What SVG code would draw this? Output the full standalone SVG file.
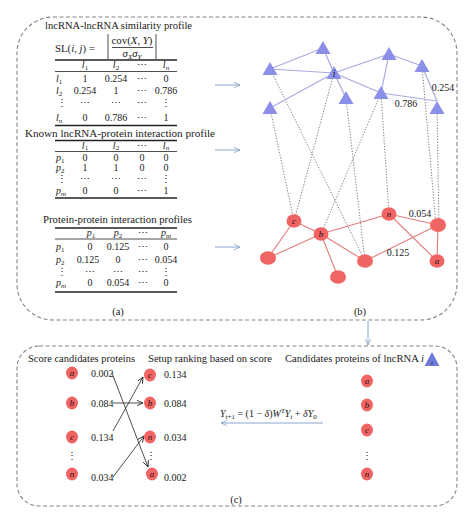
<svg xmlns="http://www.w3.org/2000/svg" width="474" height="524" viewBox="0 0 474 524">
<style>
text{font-family:"Liberation Serif","Times New Roman","DejaVu Serif",serif;fill:#1a1a1a}
.t{font-size:10.8px}
.n{font-size:10px;text-anchor:middle}
.lb{font-size:10px;text-anchor:start}
.it{font-style:italic}
.sub{font-size:7px}
.box{fill:none;stroke:#80858c;stroke-width:1.1;stroke-dasharray:4 2.5}
.rule{stroke:#222;stroke-width:0.8}
.rule2{stroke:#222;stroke-width:1.3}
.tri{fill:#8b8fe8}
.te{stroke:#a8abe0;stroke-width:1.2;fill:none}
.ce{stroke:#e37b7b;stroke-width:1.1;fill:none}
.de{stroke:#7a7a7a;stroke-width:1;stroke-dasharray:1.2 1.6;fill:none}
.cir{fill:#f06464}
.cl{font-size:9px;font-style:italic;text-anchor:middle;fill:#2a1010}
.blue{stroke:#8aa6cc;stroke-width:1;fill:none}
.blk{stroke:#222;stroke-width:0.8;fill:none}
.val{font-size:10px}
</style>
<defs>
<path id="tri" d="M0,-7 L7.5,6 L-7.5,6 Z"/>
<marker id="ab" viewBox="0 0 10 10" refX="9" refY="5" markerWidth="7" markerHeight="7" orient="auto" markerUnits="userSpaceOnUse">
<path d="M0,1 L9,5 L0,9" fill="none" stroke="#8aa6cc" stroke-width="1.2"/>
</marker>
<marker id="ak" viewBox="0 0 10 10" refX="9" refY="5" markerWidth="7" markerHeight="7" orient="auto" markerUnits="userSpaceOnUse">
<path d="M0,1 L9,5 L0,9" fill="none" stroke="#222" stroke-width="1.2"/>
</marker>
</defs>

<!-- frames -->
<rect class="box" x="17" y="17" width="440" height="303" rx="36" ry="36"/>
<rect class="box" x="17" y="346" width="440" height="160" rx="22" ry="22"/>

<!-- panel (a) -->
<g id="panel-a">
<text class="t" x="45" y="29" textLength="147" lengthAdjust="spacingAndGlyphs">lncRNA-lncRNA similarity profile</text>
<text class="t" x="55" y="52">SL(<tspan class="it">i</tspan>, <tspan class="it">j</tspan>) =</text>
<line class="rule" x1="108" y1="34" x2="108" y2="59"/>
<line class="rule" x1="156" y1="34" x2="156" y2="59"/>
<text class="t" x="132" y="44" text-anchor="middle">cov(<tspan class="it">X</tspan>, <tspan class="it">Y</tspan>)</text>
<line class="rule" x1="112" y1="47.5" x2="153" y2="47.5"/>
<text class="t" x="132" y="57" text-anchor="middle"><tspan class="it">σ</tspan><tspan class="sub it" dy="1.5">X</tspan><tspan class="it" dy="-1.5">σ</tspan><tspan class="sub it" dy="1.5">Y</tspan></text>
<line class="rule2" x1="55" y1="60" x2="177" y2="60"/>
<line class="rule" x1="55" y1="71.5" x2="177" y2="71.5"/>
<text class="n" x="85" y="68"><tspan class="it">l</tspan><tspan class="sub" dy="1.5">1</tspan></text>
<text class="n" x="116" y="68"><tspan class="it">l</tspan><tspan class="sub" dy="1.5">2</tspan></text>
<text class="n" x="142" y="68">⋯</text>
<text class="n" x="166" y="68"><tspan class="it">l</tspan><tspan class="sub it" dy="1.5">n</tspan></text>
<text class="lb" x="56" y="82"><tspan class="it">l</tspan><tspan class="sub" dy="1.5">1</tspan></text>
<text class="n" x="85" y="82">1</text><text class="n" x="116" y="82">0.254</text><text class="n" x="142" y="82">⋯</text><text class="n" x="166" y="82">0</text>
<text class="lb" x="56" y="94"><tspan class="it">l</tspan><tspan class="sub" dy="1.5">2</tspan></text>
<text class="n" x="85" y="94">0.254</text><text class="n" x="116" y="94">1</text><text class="n" x="142" y="94">⋯</text><text class="n" x="166" y="94">0.786</text>
<text class="lb" x="57" y="106">⋮</text>
<text class="n" x="85" y="106">⋯</text><text class="n" x="116" y="106">⋯</text><text class="n" x="142" y="106">⋯</text><text class="n" x="166" y="106">⋮</text>
<text class="lb" x="56" y="121"><tspan class="it">l</tspan><tspan class="sub it" dy="1.5">n</tspan></text>
<text class="n" x="85" y="121">0</text><text class="n" x="116" y="121">0.786</text><text class="n" x="142" y="121">⋯</text><text class="n" x="166" y="121">1</text>
<line class="rule2" x1="55" y1="125.5" x2="177" y2="125.5"/>

<text class="t" x="25" y="137" textLength="190" lengthAdjust="spacingAndGlyphs">Known lncRNA-protein interaction profile</text>
<line class="rule2" x1="55" y1="140.5" x2="177" y2="140.5"/>
<line class="rule" x1="55" y1="151.5" x2="177" y2="151.5"/>
<text class="n" x="85" y="148.5"><tspan class="it">l</tspan><tspan class="sub" dy="1.5">1</tspan></text>
<text class="n" x="116" y="148.5"><tspan class="it">l</tspan><tspan class="sub" dy="1.5">2</tspan></text>
<text class="n" x="142" y="148.5">⋯</text>
<text class="n" x="166" y="148.5"><tspan class="it">l</tspan><tspan class="sub it" dy="1.5">n</tspan></text>
<text class="lb" x="56" y="161"><tspan class="it">p</tspan><tspan class="sub" dy="1.5">1</tspan></text>
<text class="n" x="85" y="161">0</text><text class="n" x="116" y="161">0</text><text class="n" x="142" y="161">0</text><text class="n" x="166" y="161">0</text>
<text class="lb" x="56" y="171"><tspan class="it">p</tspan><tspan class="sub" dy="1.5">2</tspan></text>
<text class="n" x="85" y="171">1</text><text class="n" x="116" y="171">1</text><text class="n" x="142" y="171">0</text><text class="n" x="166" y="171">0</text>
<text class="lb" x="57" y="182">⋮</text>
<text class="n" x="85" y="182">⋯</text><text class="n" x="116" y="182">⋯</text><text class="n" x="142" y="182">⋯</text><text class="n" x="166" y="182">⋮</text>
<text class="lb" x="56" y="194"><tspan class="it">p</tspan><tspan class="sub it" dy="1.5">m</tspan></text>
<text class="n" x="85" y="194">0</text><text class="n" x="116" y="194">0</text><text class="n" x="142" y="194">⋯</text><text class="n" x="166" y="194">1</text>
<line class="rule2" x1="55" y1="198" x2="177" y2="198"/>

<text class="t" x="43" y="223" textLength="149" lengthAdjust="spacingAndGlyphs">Protein-protein interaction profiles</text>
<line class="rule2" x1="55" y1="228" x2="177" y2="228"/>
<line class="rule" x1="55" y1="239" x2="177" y2="239"/>
<text class="n" x="91" y="236"><tspan class="it">p</tspan><tspan class="sub" dy="1.5">1</tspan></text>
<text class="n" x="118" y="236"><tspan class="it">p</tspan><tspan class="sub" dy="1.5">2</tspan></text>
<text class="n" x="143" y="236">⋯</text>
<text class="n" x="166" y="236"><tspan class="it">p</tspan><tspan class="sub it" dy="1.5">m</tspan></text>
<text class="lb" x="56" y="250"><tspan class="it">p</tspan><tspan class="sub" dy="1.5">1</tspan></text>
<text class="n" x="90" y="250">0</text><text class="n" x="118" y="250">0.125</text><text class="n" x="143" y="250">⋯</text><text class="n" x="166" y="250">0</text>
<text class="lb" x="56" y="263"><tspan class="it">p</tspan><tspan class="sub" dy="1.5">2</tspan></text>
<text class="n" x="88" y="263">0.125</text><text class="n" x="118" y="263">0</text><text class="n" x="143" y="263">⋯</text><text class="n" x="166" y="263">0.054</text>
<text class="lb" x="57" y="275">⋮</text>
<text class="n" x="90" y="275">⋯</text><text class="n" x="118" y="275">⋯</text><text class="n" x="143" y="275">⋯</text><text class="n" x="166" y="275">⋮</text>
<text class="lb" x="56" y="286"><tspan class="it">p</tspan><tspan class="sub it" dy="1.5">m</tspan></text>
<text class="n" x="90" y="286">0</text><text class="n" x="118" y="286">0.054</text><text class="n" x="143" y="286">⋯</text><text class="n" x="166" y="286">0</text>
<line class="rule2" x1="55" y1="292" x2="177" y2="292"/>
<text class="n" x="118" y="315" style="font-size:10.5px">(a)</text>
</g>

<!-- connectors -->
<g id="connectors">
<line class="blue" x1="215" y1="85" x2="240" y2="85" marker-end="url(#ab)"/>
<line class="blue" x1="215" y1="150" x2="240" y2="150" marker-end="url(#ab)"/>
<line class="blue" x1="215" y1="247" x2="240" y2="247" marker-end="url(#ab)"/>
<line class="blue" x1="368" y1="321" x2="368" y2="345" marker-end="url(#ab)"/>
<line class="blue" x1="323" y1="423" x2="221" y2="423" marker-end="url(#ab)"/>
<!-- dotted lncRNA-protein -->
<line class="de" x1="270" y1="108" x2="294" y2="221"/>
<line class="de" x1="334" y1="73" x2="294" y2="221"/>
<line class="de" x1="270" y1="69" x2="365" y2="261"/>
<line class="de" x1="381" y1="93" x2="321" y2="234"/>
<line class="de" x1="346" y1="98" x2="365" y2="261"/>
<line class="de" x1="381" y1="93" x2="389" y2="214"/>
<line class="de" x1="422" y1="66" x2="436" y2="225"/>
<line class="de" x1="437" y1="108" x2="439" y2="225"/>
<!-- lncRNA edges -->
<line class="te" x1="270" y1="69" x2="334" y2="73"/>
<line class="te" x1="270" y1="69" x2="323" y2="48"/>
<line class="te" x1="323" y1="48" x2="334" y2="73"/>
<line class="te" x1="334" y1="73" x2="389" y2="54"/>
<line class="te" x1="334" y1="73" x2="270" y2="108"/>
<line class="te" x1="334" y1="73" x2="346" y2="98"/>
<line class="te" x1="334" y1="73" x2="381" y2="93"/>
<line class="te" x1="389" y1="54" x2="422" y2="66"/>
<line class="te" x1="389" y1="54" x2="381" y2="93"/>
<line class="te" x1="381" y1="93" x2="437" y2="101"/>
<line class="te" x1="422" y1="66" x2="437" y2="101"/>
<!-- protein edges -->
<line class="ce" x1="294" y1="221" x2="321" y2="234"/>
<line class="ce" x1="294" y1="221" x2="268" y2="258"/>
<line class="ce" x1="268" y1="258" x2="321" y2="234"/>
<line class="ce" x1="321" y1="234" x2="389" y2="214"/>
<line class="ce" x1="321" y1="234" x2="365" y2="261"/>
<line class="ce" x1="321" y1="234" x2="338" y2="277"/>
<line class="ce" x1="365" y1="261" x2="438" y2="225"/>
<line class="ce" x1="389" y1="214" x2="438" y2="225"/>
<line class="ce" x1="389" y1="214" x2="437" y2="261"/>
<line class="ce" x1="438" y1="225" x2="437" y2="261"/>
<!-- ranking arrows -->
<line class="blk" x1="112" y1="373" x2="148" y2="467" marker-end="url(#ak)"/>
<line class="blk" x1="113" y1="403" x2="143" y2="403" marker-end="url(#ak)"/>
<line class="blk" x1="113" y1="431" x2="143" y2="377" marker-end="url(#ak)"/>
<line class="blk" x1="113" y1="477" x2="144" y2="436" marker-end="url(#ak)"/>
</g>

<!-- panel (b) nodes -->
<g id="lnc-1"><use href="#tri" class="tri" x="323" y="48"/></g>
<g id="lnc-2"><use href="#tri" class="tri" x="270" y="69"/></g>
<g id="lnc-i"><use href="#tri" class="tri" x="334" y="73"/><text class="cl" x="334" y="77" style="font-size:9.5px;fill:#1a1a40">i</text></g>
<g id="lnc-4"><use href="#tri" class="tri" x="389" y="54"/></g>
<g id="lnc-5"><use href="#tri" class="tri" x="422" y="66"/></g>
<g id="lnc-6"><use href="#tri" class="tri" x="270" y="108"/></g>
<g id="lnc-7"><use href="#tri" class="tri" x="346" y="98"/></g>
<g id="lnc-8"><use href="#tri" class="tri" x="381" y="93"/></g>
<g id="lnc-9"><use href="#tri" class="tri" x="437" y="108"/></g>
<text class="n" x="406" y="107">0.786</text>
<text class="n" x="443" y="91">0.254</text>

<g id="pro-c"><ellipse class="cir" cx="294" cy="221" rx="7.5" ry="6.8"/><text class="cl" x="294" y="224">c</text></g>
<g id="pro-b"><ellipse class="cir" cx="321" cy="234" rx="7.5" ry="6.8"/><text class="cl" x="321" y="237">b</text></g>
<g id="pro-n"><ellipse class="cir" cx="389" cy="214" rx="7.5" ry="6.8"/><text class="cl" x="389" y="217">n</text></g>
<g id="pro-r"><ellipse class="cir" cx="438" cy="225" rx="8" ry="7"/></g>
<g id="pro-a"><ellipse class="cir" cx="437" cy="261" rx="7.5" ry="6.8"/><text class="cl" x="437" y="264">a</text></g>
<g id="pro-1"><ellipse class="cir" cx="268" cy="258" rx="8" ry="6.8"/></g>
<g id="pro-2"><ellipse class="cir" cx="365" cy="261" rx="8" ry="6.8"/></g>
<g id="pro-3"><ellipse class="cir" cx="338" cy="277" rx="8" ry="6.8"/></g>
<text class="n" x="420" y="217">0.054</text>
<text class="n" x="398" y="256">0.125</text>
<text class="n" x="360" y="315" style="font-size:10.5px">(b)</text>

<!-- panel (c) -->
<g id="panel-c">
<text x="28" y="362" style="font-size:10.5px" textLength="107" lengthAdjust="spacingAndGlyphs">Score candidates proteins</text>
<text x="148" y="362" style="font-size:10.5px" textLength="124" lengthAdjust="spacingAndGlyphs">Setup ranking based on score</text>
<text x="285" y="362" style="font-size:10.5px" textLength="139" lengthAdjust="spacingAndGlyphs">Candidates proteins of lncRNA <tspan class="it">i</tspan></text>
<path d="M432,352 L439.5,366 L424.5,366 Z" fill="#6f7ad8"/>
<text class="cl" x="432" y="365" style="font-size:7px;fill:#1a1a40">i</text>

<text class="val" x="220" y="417"><tspan class="it">Y</tspan><tspan class="sub it" dy="2">t</tspan><tspan class="sub" dy="0">+1</tspan><tspan dy="-2"> = (1 − </tspan><tspan class="it">δ</tspan><tspan>)</tspan><tspan class="it">W</tspan><tspan class="sub it" dy="-4">T</tspan><tspan class="it" dy="4">Y</tspan><tspan class="sub it" dy="2">t</tspan><tspan dy="-2"> + </tspan><tspan class="it">δY</tspan><tspan class="sub" dy="2">0</tspan></text>

<g id="s-a"><ellipse class="cir" cx="72" cy="373" rx="6" ry="6.5"/><text class="cl" x="72" y="376">a</text></g>
<g id="s-b"><ellipse class="cir" cx="72" cy="403" rx="6" ry="6.5"/><text class="cl" x="72" y="406">b</text></g>
<g id="s-c"><ellipse class="cir" cx="72" cy="437" rx="6" ry="6.5"/><text class="cl" x="72" y="440">c</text></g>
<text class="n" x="72" y="459">⋮</text>
<g id="s-n"><ellipse class="cir" cx="72" cy="474" rx="6" ry="6.5"/><text class="cl" x="72" y="477">n</text></g>
<text class="val" x="91" y="377">0.002</text>
<text class="val" x="91" y="407">0.084</text>
<text class="val" x="91" y="441">0.134</text>
<text class="val" x="91" y="481">0.034</text>

<g id="r-c"><ellipse class="cir" cx="150" cy="375" rx="6" ry="6.5"/><text class="cl" x="150" y="378">c</text></g>
<g id="r-b"><ellipse class="cir" cx="150" cy="403" rx="6" ry="6.5"/><text class="cl" x="150" y="406">b</text></g>
<g id="r-n"><ellipse class="cir" cx="150" cy="437" rx="6" ry="6.5"/><text class="cl" x="150" y="440">n</text></g>
<text class="n" x="151" y="459">⋮</text>
<g id="r-a"><ellipse class="cir" cx="152" cy="474" rx="6" ry="6.5"/><text class="cl" x="152" y="477">a</text></g>
<text class="val" x="164" y="378">0.134</text>
<text class="val" x="164" y="407">0.084</text>
<text class="val" x="164" y="441">0.034</text>
<text class="val" x="164" y="481">0.002</text>

<g id="k-a"><ellipse class="cir" cx="367" cy="381" rx="6" ry="6.5"/><text class="cl" x="367" y="384">a</text></g>
<g id="k-b"><ellipse class="cir" cx="367" cy="405" rx="6" ry="6.5"/><text class="cl" x="367" y="408">b</text></g>
<g id="k-c"><ellipse class="cir" cx="367" cy="430" rx="6" ry="6.5"/><text class="cl" x="367" y="433">c</text></g>
<text class="n" x="367" y="459">⋮</text>
<g id="k-n"><ellipse class="cir" cx="367" cy="474" rx="6" ry="6.5"/><text class="cl" x="367" y="477">n</text></g>
<text class="n" x="236" y="503" style="font-size:10.5px">(c)</text>
</g>
</svg>
